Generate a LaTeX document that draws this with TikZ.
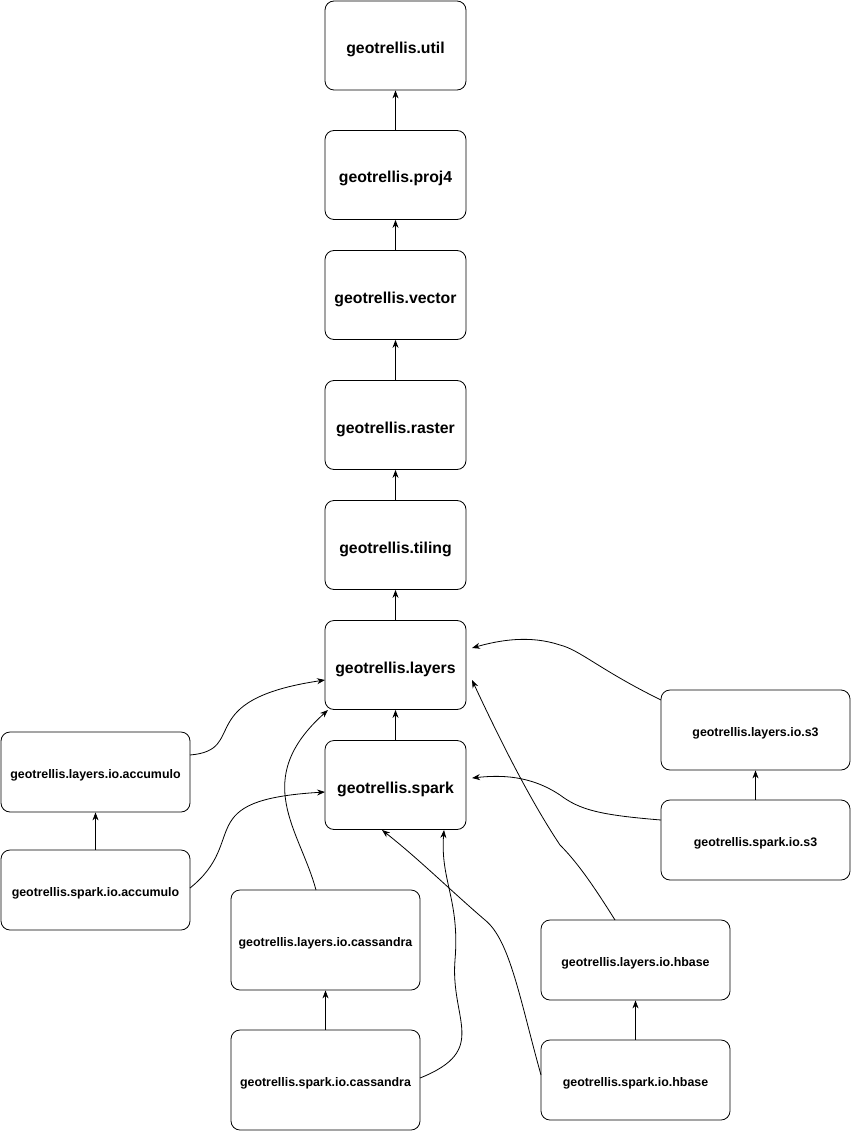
\documentclass[tikz,border=0pt]{standalone}
\usepackage{fontspec}
\setmainfont{Liberation Sans}
\usetikzlibrary{arrows.meta}
\begin{document}
\begin{tikzpicture}[x=1pt,y=-1pt,
  big/.style={draw,line width=0.8pt,rounded corners=9pt,minimum width=141pt,minimum height=89pt,font=\bfseries\fontsize{15.8}{18}\selectfont,inner sep=0pt,text height=20pt,text depth=4pt},
  small/.style={draw,line width=0.8pt,rounded corners=9pt,minimum width=189pt,minimum height=80pt,font=\bfseries\fontsize{12.4}{14}\selectfont,inner sep=0pt,text height=15.5pt,text depth=3pt},
  arr/.style={-{Stealth[length=8pt,width=6pt]},line width=0.8pt}]
\useasboundingbox (0,0) rectangle (851,1131);
\node[big] (util) at (395.5,45.5) {geotrellis.util};
\node[big] (proj) at (395.5,175) {geotrellis.proj4};
\node[big] (vec) at (395.5,295) {geotrellis.vector};
\node[big] (ras) at (395.5,425) {geotrellis.raster};
\node[big] (til) at (395.5,545) {geotrellis.tiling};
\node[big] (lay) at (395.5,665) {geotrellis.layers};
\node[big] (spk) at (395.5,785) {geotrellis.spark};
\node[small] (lacc) at (95.5,772) {geotrellis.layers.io.accumulo};
\node[small] (sacc) at (95.5,890) {geotrellis.spark.io.accumulo};
\node[small,minimum height=100pt] (lcas) at (325.5,940) {geotrellis.layers.io.cassandra};
\node[small,minimum height=100pt] (scas) at (325.5,1080) {geotrellis.spark.io.cassandra};
\node[small] (lhb) at (635.5,960) {geotrellis.layers.io.hbase};
\node[small] (shb) at (635.5,1080) {geotrellis.spark.io.hbase};
\node[small] (ls3) at (755.5,730) {geotrellis.layers.io.s3};
\node[small] (ss3) at (755.5,840) {geotrellis.spark.io.s3};
\draw[arr] (proj) -- (util);
\draw[arr] (vec) -- (proj);
\draw[arr] (ras) -- (vec);
\draw[arr] (til) -- (ras);
\draw[arr] (lay) -- (til);
\draw[arr] (spk) -- (lay);
\draw[arr] (sacc) -- (lacc);
\draw[arr] (scas) -- (lcas);
\draw[arr] (shb) -- (lhb);
\draw[arr] (ss3) -- (ls3);
\coordinate (a1) at (190,755); \coordinate (a2) at (325,680);
\draw[arr] (a1) .. controls (250,750) and (190,700) .. (a2);
\coordinate (b1) at (190,888); \coordinate (b2) at (325,792);
\draw[arr] (b1) .. controls (250,840) and (190,800) .. (b2);
\coordinate (c1) at (316,890); \coordinate (c2) at (328,710);
\draw[arr] (c1) .. controls (300,830) and (250,780) .. (c2);
\coordinate (d1) at (420,1078); \coordinate (d2) at (444,830);
\draw[arr] (d1) .. controls (490,1050) and (450,1020) .. (455,960) .. controls (460,900) and (440,880) .. (d2);
\coordinate (e1) at (541,1075); \coordinate (e2) at (382,830);
\draw[arr] (e1) .. controls (520,1000) and (510,940) .. (485,920) .. controls (450,890) and (420,860) .. (e2);
\coordinate (f1) at (615,920); \coordinate (f2) at (472,680);
\draw[arr] (f1) .. controls (590,880) and (575,860) .. (560,845) .. controls (530,800) and (500,740) .. (f2);
\coordinate (g1) at (661,700); \coordinate (g2) at (472,648);
\draw[arr] (g1) .. controls (600,670) and (580,650) .. (560,645) .. controls (530,635) and (500,640) .. (g2);
\coordinate (h1) at (661,820); \coordinate (h2) at (472,778);
\draw[arr] (h1) .. controls (600,815) and (580,810) .. (560,795) .. controls (530,775) and (500,775) .. (h2);
\end{tikzpicture}
\end{document}
